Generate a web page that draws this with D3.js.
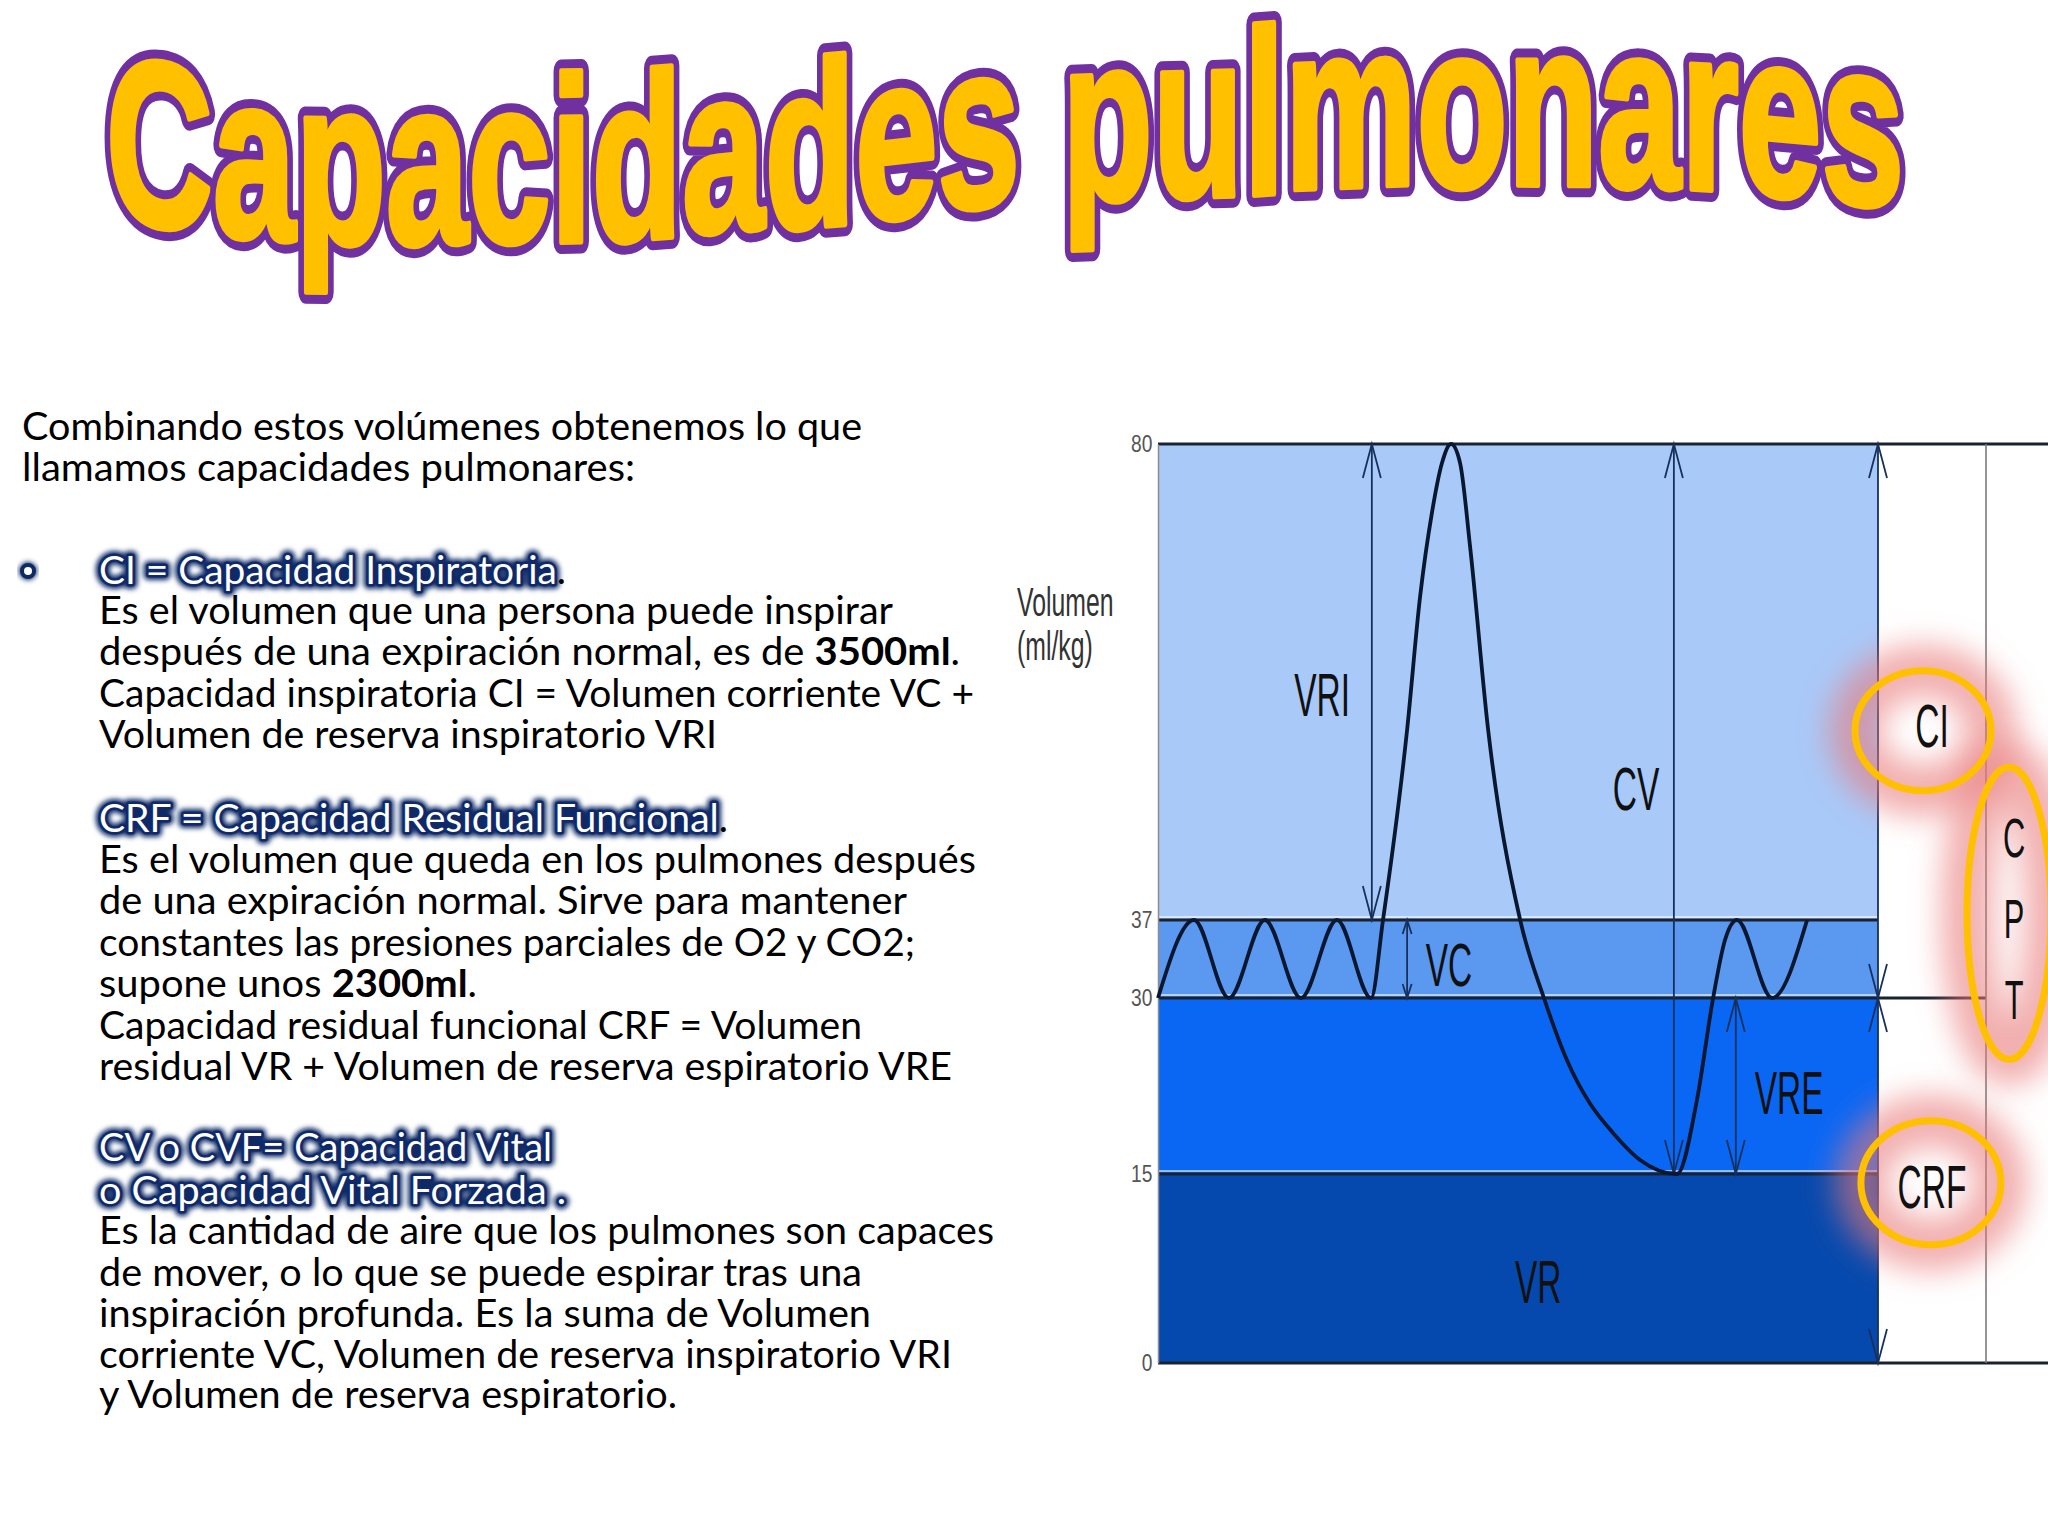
<!DOCTYPE html>
<html>
<head>
<meta charset="utf-8">
<script src="https://cdn.jsdelivr.net/npm/d3@7"></script>
<style>
  body { margin: 0; background: #ffffff; }
  svg { display: block; }
</style>
</head>
<body>
<svg id="slide" width="2048" height="1536"></svg>
<script>
// ---- data: lung volumes in ml/kg ----
const bandNames = ["VR", "VRE", "VC", "VRI"]
const bandLow = [0, 15, 30, 37]
const bandHigh = [15, 30, 37, 80]
const bandColors = ["#0649AE", "#0A67F4", "#5B98F0", "#A9C9F8"]
const tickValues = [0, 15, 30, 37, 80]

// spirometer trace (time in arbitrary units, volume in ml/kg)
const traceTime = [0, 1, 1.97, 2.97, 3.97, 4.97, 5.92, 6.25, 6.92, 7.28, 7.61, 7.89, 8.14, 8.39, 8.67, 9.17,
  10.06, 10.72, 11.36, 12.0, 12.64, 13.39, 14.42, 14.97, 15.42, 15.75, 16.08, 17.06, 18.03]
const traceVolume = [30, 37, 30, 37, 30, 37, 30, 37, 54.2, 66.2, 73.8, 78.3, 80, 78.3, 70.7, 54.2,
  37, 30, 24.7, 21.0, 18.5, 16.2, 15, 21.3, 30, 35.2, 37, 30, 37]

// double headed arrows
const arrowTime = [5.94, 6.92, 14.33, 16.05, 20, 20]
const arrowFrom = [37, 30, 15, 15, 30, 0]
const arrowTo = [80, 37, 80, 30, 80, 30]
const arrowSmall = [false, true, false, false, false, false]

// labels inside the chart
const labelText = ["VRI", "CV", "VC", "VRE", "VR"]
const labelTime = [4.56, 13.28, 8.08, 17.53, 10.56]
const labelVolume = [55.4, 46.9, 31.1, 20.1, 4.76]

// circled capacities on the right
const capText = ["CI", "CRF"]
const capTime = [21.5, 21.5]
const capVolume = [52.6, 12.3]

// left column text
const textLines = [
  [["Combinando estos volúmenes obtenemos lo que", "n"]],
  [["llamamos capacidades pulmonares:", "n"]],
  [["CI = Capacidad Inspiratoria", "h"], [".", "n"]],
  [["Es el volumen que una persona puede inspirar", "n"]],
  [["después de una expiración normal, es de ", "n"], ["3500ml", "b"], [".", "n"]],
  [["Capacidad inspiratoria CI = Volumen corriente VC +", "n"]],
  [["Volumen de reserva inspiratorio VRI", "n"]],
  [["CRF = Capacidad Residual Funcional", "h"], [".", "n"]],
  [["Es el volumen que queda en los pulmones después", "n"]],
  [["de una expiración normal. Sirve para mantener", "n"]],
  [["constantes las presiones parciales de O2 y CO2;", "n"]],
  [["supone unos ", "n"], ["2300ml", "b"], [".", "n"]],
  [["Capacidad residual funcional CRF = Volumen", "n"]],
  [["residual VR + Volumen de reserva espiratorio VRE", "n"]],
  [["CV o CVF= Capacidad Vital", "h"]],
  [["o Capacidad Vital Forzada .", "h"]],
  [["Es la cantidad de aire que los pulmones son capaces", "n"]],
  [["de mover, o lo que se puede espirar tras una", "n"]],
  [["inspiración profunda. Es la suma de Volumen", "n"]],
  [["corriente VC, Volumen de reserva inspiratorio VRI", "n"]],
  [["y Volumen de reserva espiratorio.", "n"]]
]

const titleWords = ["Capacidades", "pulmonares"]

// ---- layout ----
const lineX = [22, 22, 99, 99, 99, 99, 99, 99, 99, 99, 99, 99, 99, 99, 99, 99, 99, 99, 99, 99, 99]
const lineY = [440, 481, 584, 624, 665, 707, 748, 832, 873, 914, 956, 997, 1039, 1080, 1161, 1204, 1244, 1286, 1327, 1368, 1408]
const lineEnd = [862, 635, 566, 893, 960, 974, 717, 728, 976, 907, 915, 477, 862, 952, 552, 566, 994, 862, 871, 952, 677]

const titleSpan = [[106, 1020], [1062, 1904]]
const waveX = [100, 145, 233, 320, 409, 499, 566, 632, 723, 809, 904, 985, 1040, 1098, 1184, 1255, 1351, 1465, 1547, 1637, 1715, 1793, 1870, 1920]
const waveY = [222, 224, 236, 243, 244, 242, 242, 240, 231, 227, 217, 206, 203, 200, 197, 195, 187, 187, 185, 187, 190, 197, 205, 211]

const W = 2048
const svg = d3.select("#slide")
const defs = svg.append("defs")
defs.append("filter").attr("id", "pinkglow")
    .attr("x", "-80%").attr("y", "-80%").attr("width", "260%").attr("height", "260%")
    .append("feGaussianBlur").attr("stdDeviation", 15)
defs.append("filter").attr("id", "soft")
    .attr("x", "-10%").attr("y", "-40%").attr("width", "120%").attr("height", "180%")
    .append("feGaussianBlur").attr("stdDeviation", 2.5)

// ---- title (word art) ----
const titleG = svg.append("g")
const baseline = d3.scaleLinear().domain(waveX).range(waveY).clamp(true)
const titleStretch = 1.28

function titleLetter(sel, ch, fill, stroke, width) {
    return sel.append("text")
        .attr("font-family", "'Liberation Sans', Arial, sans-serif")
        .attr("font-weight", 700)
        .attr("font-size", 184)
        .attr("text-anchor", "middle")
        .attr("fill", fill)
        .attr("stroke", stroke)
        .attr("stroke-width", width)
        .attr("stroke-linejoin", "round")
        .attr("vector-effect", "non-scaling-stroke")
        .text(ch)
}

titleWords.forEach((word, wi) => {
    let chars = word.split("")
    // each letter: purple outline, then a yellow layer that fattens it
    let groups = chars.map(ch => {
        let g = titleG.append("g")
        titleLetter(g, ch, "#7030A0", "#7030A0", 20)
        titleLetter(g, ch, "#FFC000", "#FFC000", 5)
        return g
    })
    let widths = groups.map(g => g.select("text").node().getComputedTextLength())
    let total = d3.sum(widths)
    let [x0, x1] = titleSpan[wi]
    let fx = (x1 - x0) / total
    let cursor = x0
    groups.forEach((g, i) => {
        let w = widths[i] * fx
        let cx = cursor + w / 2
        cursor += w
        let slope = (baseline(cx + 15) - baseline(cx - 15)) / 30
        let ang = Math.atan(slope) * 180 / Math.PI
        g.selectAll("text")
            .attr("transform", `translate(${cx},${baseline(cx)}) skewY(${ang}) scale(${fx},${titleStretch})`)
    })
})

// ---- left text ----
const block = svg.append("g")
    .attr("font-family", "Lato, 'Open Sans', sans-serif")
    .attr("font-size", 38)
    .attr("fill", "#000")

// bullet
block.append("circle").attr("cx", 28).attr("cy", 571).attr("r", 9)
    .attr("fill", "#0d2a66").attr("filter", "url(#soft)")
block.append("circle").attr("cx", 28).attr("cy", 571).attr("r", 6)
    .attr("fill", "#fff").attr("stroke", "#0d2a66").attr("stroke-width", 4)

textLines.forEach((segs, i) => {
    let isHead = segs.some(s => s[1] === "h")
    if (isHead) {
        let glow = block.append("text")
            .attr("x", lineX[i]).attr("y", lineY[i])
            .attr("textLength", lineEnd[i] - lineX[i])
            .attr("lengthAdjust", "spacingAndGlyphs")
            .attr("filter", "url(#soft)")
        segs.forEach(s => {
            glow.append("tspan").text(s[0])
                .attr("fill", s[1] === "h" ? "#0d2a66" : "none")
                .attr("stroke", s[1] === "h" ? "#0d2a66" : "none")
                .attr("stroke-width", 10)
                .attr("stroke-linejoin", "round")
        })
    }
    let t = block.append("text")
        .attr("x", lineX[i]).attr("y", lineY[i])
        .attr("textLength", lineEnd[i] - lineX[i])
        .attr("lengthAdjust", "spacingAndGlyphs")
    segs.forEach(s => {
        let sp = t.append("tspan").text(s[0])
        if (s[1] === "b") {
            sp.attr("font-weight", 700)
        }
        else if (s[1] === "h") {
            sp.attr("fill", "#ffffff")
                .attr("stroke", "#10296a")
                .attr("stroke-width", 5)
                .attr("stroke-linejoin", "round")
                .attr("paint-order", "stroke")
        }
    })
})

// ---- chart ----
const x = d3.scaleLinear().domain([0, 20]).range([1158, 1878])
const y = d3.scaleLinear().domain([0, 15, 30, 37, 80]).range([1363, 1174, 998, 920, 444])
const chart = svg.append("g")

chart.selectAll("rect.band")
    .data(bandNames)
    .join("rect")
    .attr("class", "band")
    .attr("x", x(0))
    .attr("width", x(20) - x(0))
    .attr("y", (d, i) => y(bandHigh[i]))
    .attr("height", (d, i) => y(bandLow[i]) - y(bandHigh[i]))
    .attr("fill", (d, i) => bandColors[i])

// thin light edges just above each inner boundary
chart.selectAll("line.edge")
    .data([37, 30, 15])
    .join("line")
    .attr("class", "edge")
    .attr("x1", x(0)).attr("x2", x(20))
    .attr("y1", d => y(d) - 3).attr("y2", d => y(d) - 3)
    .attr("stroke", "#ffffff").attr("stroke-opacity", 0.75).attr("stroke-width", 1.3)

// boundary lines
const levelEnds = [W, x(20), x(23), x(20), W]
chart.selectAll("line.level")
    .data([80, 37, 30, 15, 0])
    .join("line")
    .attr("class", "level")
    .attr("x1", x(0)).attr("x2", (d, i) => levelEnds[i])
    .attr("y1", d => y(d)).attr("y2", d => y(d))
    .attr("stroke", "#1a2230").attr("stroke-width", 3)

// column separator for CPT
chart.append("line")
    .attr("x1", x(23)).attr("x2", x(23))
    .attr("y1", y(80)).attr("y2", y(0))
    .attr("stroke", "#7a7a7a").attr("stroke-width", 1.6)

// y axis
const axis = d3.axisLeft(y).tickValues(tickValues).tickSize(0).tickSizeOuter(0).tickPadding(7)
chart.append("g")
    .attr("transform", `translate(${x(0)},0)`)
    .call(axis)
    .call(g => g.select(".domain").attr("stroke", "#8c8c8c").attr("stroke-width", 1.5))
    .call(g => g.selectAll("text")
        .attr("font-family", "'Liberation Sans', Arial, sans-serif")
        .attr("font-size", 24)
        .attr("fill", "#555")
        .attr("transform", "scale(0.8,1)"))

chart.append("text")
    .attr("font-family", "'Liberation Sans', Arial, sans-serif")
    .attr("font-size", 40)
    .attr("fill", "#333")
    .attr("transform", "translate(1017,616) scale(0.62,1)")
    .text("Volumen")
chart.append("text")
    .attr("font-family", "'Liberation Sans', Arial, sans-serif")
    .attr("font-size", 40)
    .attr("fill", "#333")
    .attr("transform", "translate(1017,660) scale(0.62,1)")
    .text("(ml/kg)")

// arrows
arrowTime.forEach((t, i) => {
    let ax = x(t)
    let top = y(arrowTo[i])
    let bot = y(arrowFrom[i])
    let len = arrowSmall[i] ? 14 : 34
    let hw = arrowSmall[i] ? 4.5 : 9
    let g = chart.append("g")
        .attr("fill", "none")
        .attr("stroke", "#17305c")
        .attr("stroke-width", 1.8)
    g.append("line").attr("x1", ax).attr("x2", ax).attr("y1", top).attr("y2", bot)
    g.append("path").attr("d", `M${ax - hw},${top + len}L${ax},${top}L${ax + hw},${top + len}`)
    g.append("path").attr("d", `M${ax - hw},${bot - len}L${ax},${bot}L${ax + hw},${bot - len}`)
})

// spirometer trace
const traceLine = d3.line()
    .x(d => x(d[0]))
    .y(d => y(d[1]))
    .curve(d3.curveMonotoneX)
chart.append("path")
    .datum(d3.zip(traceTime, traceVolume))
    .attr("d", traceLine)
    .attr("fill", "none")
    .attr("stroke", "#0a1730")
    .attr("stroke-width", 3.8)
    .attr("stroke-linejoin", "round")

function narrowText(sel, txt, px, py, size, sx) {
    return sel.append("text")
        .attr("font-family", "'Liberation Sans', Arial, sans-serif")
        .attr("font-size", size)
        .attr("fill", "#111")
        .attr("text-anchor", "middle")
        .attr("transform", `translate(${px},${py}) scale(${sx},1)`)
        .text(txt)
}

labelText.forEach((txt, i) => {
    narrowText(chart, txt, x(labelTime[i]), y(labelVolume[i]), 62, 0.54)
})

// glowing rings
const rings = [
    { cx: x(21.25), cy: y(54.1), rx: 68, ry: 60 },
    { cx: x(23.64), cy: y(37.6), rx: 42, ry: 146 },
    { cx: x(21.47), cy: y(14.3), rx: 70, ry: 62 }
]
const glowG = chart.append("g")
rings.forEach(r => {
    glowG.append("ellipse")
        .attr("cx", r.cx).attr("cy", r.cy).attr("rx", r.rx).attr("ry", r.ry)
        .attr("fill", "none")
        .attr("stroke", "#ea7878")
        .attr("stroke-opacity", 0.6)
        .attr("stroke-width", 52)
        .attr("filter", "url(#pinkglow)")
})
rings.forEach(r => {
    chart.append("ellipse")
        .attr("cx", r.cx).attr("cy", r.cy).attr("rx", r.rx).attr("ry", r.ry)
        .attr("fill", "none")
        .attr("stroke", "#FFC000")
        .attr("stroke-width", 7)
})

capText.forEach((txt, i) => {
    narrowText(chart, txt, x(capTime[i]), y(capVolume[i]), 62, 0.54)
})
const cptLetters = ["C", "P", "T"]
const cptVolume = [42.7, 35.4, 28.2]
cptLetters.forEach((ch, i) => {
    narrowText(chart, ch, x(23.78), y(cptVolume[i]), 56, 0.55)
})
</script>
</body>
</html>
